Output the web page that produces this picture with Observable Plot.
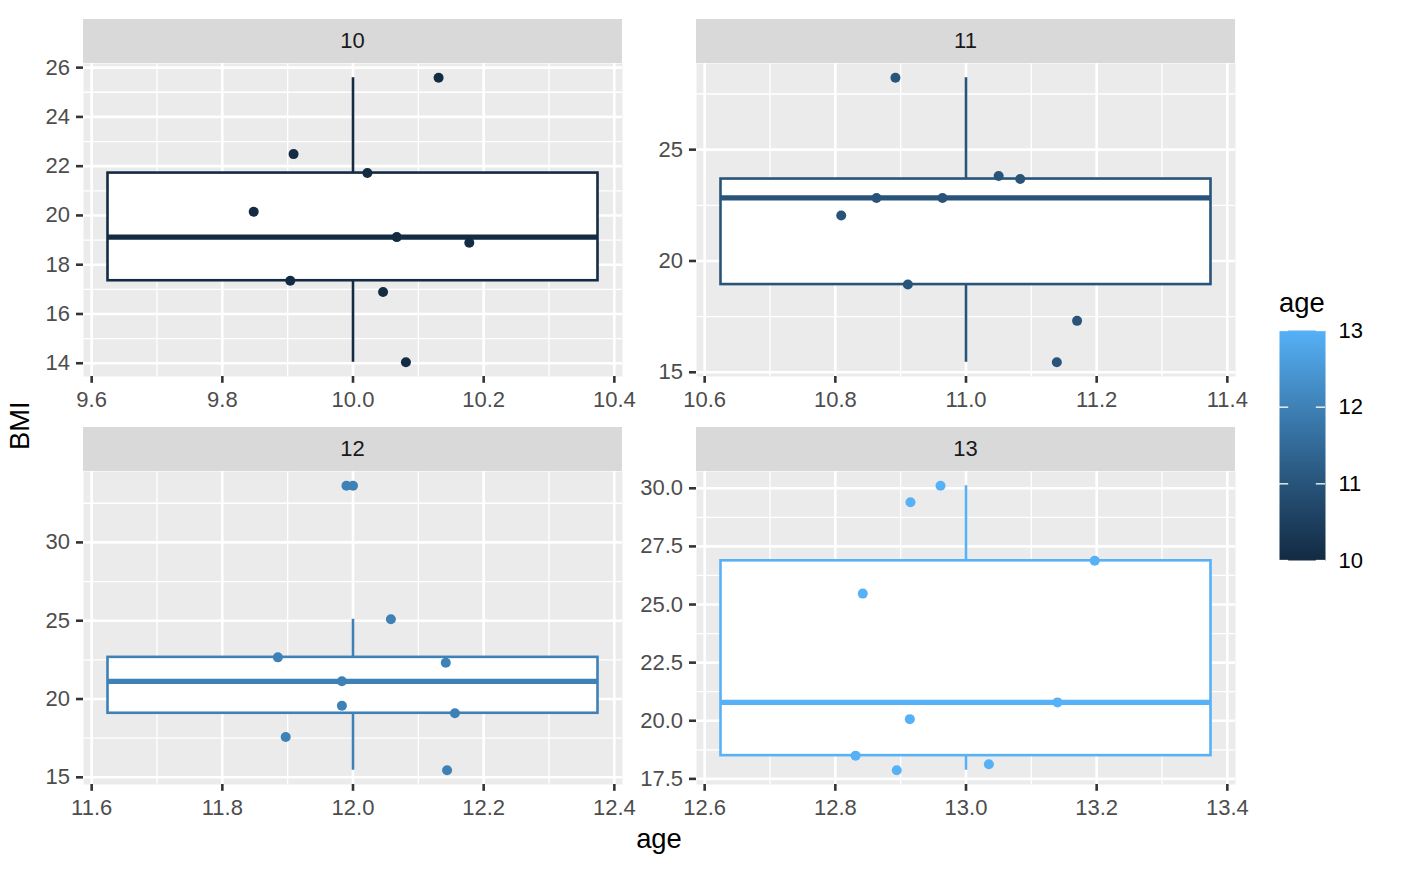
<!DOCTYPE html>
<html>
<head>
<meta charset="utf-8">
<script src="https://cdn.jsdelivr.net/npm/d3@7"></script>
<script src="https://cdn.jsdelivr.net/npm/@observablehq/plot@0.6"></script>
<style>
  html, body { margin: 0; padding: 0; background: white; }
  #chart { position: relative; width: 1428px; height: 874px; background: white;
           font-family: "Liberation Sans", Arial, Helvetica, sans-serif; }
  #chart svg { position: absolute; background: transparent; overflow: visible; max-width: none; }
  .strip { position: absolute; background: #D9D9D9; color: #1A1A1A; font-size: 22px;
           text-align: center; line-height: 44px; height: 44px; width: 539px; }
  .title { position: absolute; font-size: 27.4px; line-height: 1; color: black; white-space: nowrap; }
</style>
</head>
<body>
<div id="chart"></div>
<script>
// ---------------- data ----------------
const ages = [10, 11, 12, 13];

const jitter10 = [10.131, 9.909, 10.022, 9.848, 10.067, 10.178, 9.904, 10.046, 10.081];
const bmi10    = [25.59, 22.49, 21.72, 20.15, 19.12, 18.89, 17.35, 16.89, 14.04];

const jitter11 = [10.892, 11.050, 11.083, 10.863, 10.964, 10.809, 10.911, 11.170, 11.139];
const bmi11    = [28.23, 23.82, 23.68, 22.83, 22.83, 22.04, 18.94, 17.31, 15.45];

const jitter12 = [11.990, 12.058, 11.885, 12.142, 11.983, 11.983, 12.156, 11.897, 12.144];
const bmi12    = [33.62, 25.09, 22.66, 22.32, 21.13, 19.57, 19.09, 17.57, 15.45];

const jitter13 = [12.961, 12.915, 13.197, 12.842, 13.140, 12.914, 12.831, 12.894, 13.035];
const bmi13    = [30.11, 29.40, 26.88, 25.47, 20.79, 20.07, 18.50, 17.87, 18.13];

const xTicks10 = [9.6, 9.8, 10.0, 10.2, 10.4];
const xTicks11 = [10.6, 10.8, 11.0, 11.2, 11.4];
const xTicks12 = [11.6, 11.8, 12.0, 12.2, 12.4];
const xTicks13 = [12.6, 12.8, 13.0, 13.2, 13.4];

const yTicks10 = [14, 16, 18, 20, 22, 24, 26];
const yTicks11 = [15, 20, 25];
const yTicks12 = [15, 20, 25, 30];
const yTicks13 = [17.5, 20, 22.5, 25, 27.5, 30];

const legendTicks = [10, 11, 12, 13];
const colorLow = "#132B43", colorHigh = "#56B1F7";

// ---------------- layout ----------------
const FONT = '"Liberation Sans", Arial, Helvetica, sans-serif';
const PW = 539, PH = 313, ML = 75, MB = 50;
const colLeft = [83, 696];
const rowTop = [63, 471];
const chart = document.getElementById("chart");

const colorScale = {type: "linear", domain: [10, 13], range: [colorLow, colorHigh], interpolate: "lab"};

function minors(ticks, domain) {
  const step = ticks[1] - ticks[0];
  const out = [];
  for (let i = -1; i < ticks.length; i++) {
    const v = ticks[0] + step * (i + 0.5);
    if (v >= domain[0] && v <= domain[1]) out.push(v);
  }
  return out;
}

function panel(age, xs, ys, xTicks, yTicks, yFmt, col, row) {
  const pts = xs.map((x, i) => ({age, x, bmi: ys[i]}));
  const s = ys.slice().sort(d3.ascending);
  const q1 = d3.quantile(s, 0.25), med = d3.quantile(s, 0.5), q3 = d3.quantile(s, 0.75);
  const iqr = q3 - q1;
  const inside = s.filter(v => v >= q1 - 1.5 * iqr && v <= q3 + 1.5 * iqr);
  const lo = d3.min(inside), hi = d3.max(inside);
  const outliers = s.filter(v => v < q1 - 1.5 * iqr || v > q3 + 1.5 * iqr).map(v => ({age, bmi: v}));
  const stat = [{age, q1, med, q3, lo, hi}];
  const half = 0.375;
  const xdom = [age - half * 1.1, age + half * 1.1];
  const [ymin, ymax] = d3.extent(ys);
  const pad = (ymax - ymin) * 0.05;
  const ydom = [ymin - pad, ymax + pad];

  const svg = Plot.plot({
    width: PW + ML, height: PH + MB,
    marginLeft: ML, marginRight: 0, marginTop: 0, marginBottom: MB,
    x: {domain: xdom},
    y: {domain: ydom},
    color: colorScale,
    style: {fontFamily: FONT, fontSize: "22px", background: "transparent", overflow: "visible"},
    marks: [
      Plot.frame({fill: "#EBEBEB", stroke: "none"}),
      Plot.gridX(minors(xTicks, xdom), {stroke: "white", strokeOpacity: 1, strokeWidth: 1.3}),
      Plot.gridY(minors(yTicks, ydom), {stroke: "white", strokeOpacity: 1, strokeWidth: 1.3}),
      Plot.gridX(xTicks, {stroke: "white", strokeOpacity: 1, strokeWidth: 2.6}),
      Plot.gridY(yTicks, {stroke: "white", strokeOpacity: 1, strokeWidth: 2.6}),
      Plot.axisX(xTicks, {tickSize: 6.8, tickPadding: 8, tickFormat: d3.format(".1f"),
        stroke: "#333333", strokeWidth: 2.6, fill: "#4D4D4D", fontSize: 22, label: null}),
      Plot.axisY(yTicks, {tickSize: 7, tickPadding: 6.5, tickFormat: d3.format(yFmt),
        stroke: "#333333", strokeWidth: 2.6, fill: "#4D4D4D", fontSize: 22, label: null}),
      // boxplot
      Plot.ruleX(stat, {x: "age", y1: "q3", y2: "hi", stroke: "age", strokeWidth: 2.6}),
      Plot.ruleX(stat, {x: "age", y1: "lo", y2: "q1", stroke: "age", strokeWidth: 2.6}),
      Plot.rect(stat, {x1: d => d.age - half, x2: d => d.age + half, y1: "q1", y2: "q3",
        fill: "white", stroke: "age", strokeWidth: 2.6}),
      Plot.ruleY(stat, {y: "med", x1: d => d.age - half, x2: d => d.age + half, stroke: "age", strokeWidth: 5.2}),
      Plot.dot(outliers, {x: "age", y: "bmi", fill: "age", r: 5, stroke: "none"}),
      // jittered points
      Plot.dot(pts, {x: "x", y: "bmi", fill: "age", r: 5, stroke: "none"})
    ]
  });
  svg.style.left = (colLeft[col] - ML) + "px";
  svg.style.top = rowTop[row] + "px";
  chart.appendChild(svg);

  const strip = document.createElement("div");
  strip.className = "strip";
  strip.style.left = colLeft[col] + "px";
  strip.style.top = (rowTop[row] - 44) + "px";
  strip.textContent = String(age);
  chart.appendChild(strip);
}

panel(ages[0], jitter10, bmi10, xTicks10, yTicks10, "d", 0, 0);
panel(ages[1], jitter11, bmi11, xTicks11, yTicks11, "d", 1, 0);
panel(ages[2], jitter12, bmi12, xTicks12, yTicks12, "d", 0, 1);
panel(ages[3], jitter13, bmi13, xTicks13, yTicks13, ".1f", 1, 1);

// axis titles
const xt = document.createElement("div");
xt.className = "title";
xt.style.left = "559px"; xt.style.width = "200px"; xt.style.textAlign = "center";
xt.style.top = "825px";
xt.textContent = "age";
chart.appendChild(xt);

const yt = document.createElement("div");
yt.className = "title";
yt.style.left = "-30px"; yt.style.width = "100px"; yt.style.textAlign = "center";
yt.style.top = (426 - 13.7) + "px";
yt.style.transform = "rotate(-90deg)";
yt.textContent = "BMI";
chart.appendChild(yt);

// legend
const lt = document.createElement("div");
lt.className = "title";
lt.style.left = "1279px"; lt.style.top = "289px";
lt.textContent = "age";
chart.appendChild(lt);

const legend = Plot.plot({
  width: 46 + 80, height: 230 + 30,
  marginLeft: 0, marginRight: 80, marginTop: 15, marginBottom: 15,
  x: {domain: [0, 1], axis: null},
  y: {domain: [10, 13]},
  color: colorScale,
  style: {fontFamily: FONT, fontSize: "22px", background: "transparent", overflow: "visible"},
  marks: [
    Plot.raster({fill: (x, y) => y, x1: 0, x2: 1, y1: 10, y2: 13, width: 1, height: 230, imageRendering: "auto"}),
    Plot.ruleY(legendTicks, {x1: 0, x2: 0.2, stroke: "white", strokeWidth: 1.3}),
    Plot.ruleY(legendTicks, {x1: 0.8, x2: 1, stroke: "white", strokeWidth: 1.3}),
    Plot.axisY(legendTicks, {anchor: "right", tickSize: 0, tickPadding: 13, tickFormat: d3.format("d"),
      fill: "black", fontSize: 22, label: null})
  ]
});
legend.style.left = "1279px";
legend.style.top = "315px";
chart.appendChild(legend);
</script>
</body>
</html>
